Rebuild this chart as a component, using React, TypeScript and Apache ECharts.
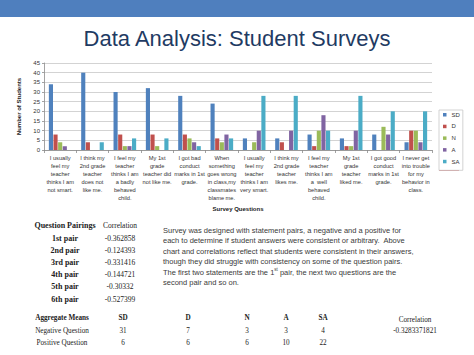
import React, { useEffect, useRef } from "react";
import * as echarts from "echarts";

const categories = [
  "I usually\nfeel my\nteacher\nthinks I am\nnot smart.",
  "I think my\n2nd grade\nteacher\ndoes not\nlike me.",
  "I feel my\nteacher\nthinks I am\na badly\nbehaved\nchild.",
  "My 1st\ngrade\nteacher did\nnot like me.",
  "I got bad\nconduct\nmarks in 1st\ngrade.",
  "When\nsomething\ngoes wrong\nin class,my\nclassmates\nblame me.",
  "I usually\nfeel my\nteacher\nthinks I am\nvery smart.",
  "I think my\n2nd grade\nteacher\nlikes me.",
  "I feel my\nteacher\nthinks I am\na  well\nbehaved\nchild.",
  "My 1st\ngrade\nteacher\nliked me.",
  "I got good\nconduct\nmarks in 1st\ngrade.",
  "I never get\ninto trouble\nfor my\nbehavior in\nclass.",
];
const seriesNames = ["SD", "D", "N", "A", "SA"];
const sdValues = [34, 40, 30, 32, 28, 24, 6, 6, 8, 6, 8, 4];
const dValues = [8, 4, 8, 8, 8, 6, 0, 4, 2, 2, 0, 10];
const nValues = [4, 0, 2, 2, 6, 4, 4, 0, 10, 2, 12, 10];
const aValues = [2, 0, 2, 0, 4, 8, 10, 10, 18, 10, 8, 4];
const saValues = [0, 4, 6, 6, 2, 6, 28, 28, 10, 28, 20, 20];
const seriesColors = ["#4f81bd", "#c0504d", "#9bbb59", "#8064a2", "#4bacc6"];

const pairLabels = ["1st pair", "2nd pair", "3rd pair", "4th pair", "5th pair", "6th pair"];
const pairCorrelations = ["-0.362858", "-0.124393", "-0.331416", "-0.144721", "-0.30332", "-0.527399"];
const aggHeaders = ["SD", "D", "N", "A", "SA"];
const negativeMeans = ["31", "7", "3", "3", "4"];
const positiveMeans = ["6", "6", "6", "10", "22"];
const aggCorrelation = "-0.3283371821";

const paragraphLines = [
  "Survey was designed with statement pairs, a negative and a positive for",
  "each to determine if student answers were consistent or arbitrary.  Above",
  "chart and correlations reflect that students were consistent in their answers,",
  "though they did struggle with consistency on some of the question pairs.",
  "{p|The first two statements are the 1}{s|st}{p| pair, the next two questions are the}",
  "second pair and so on.",
];

const SERIF = "'Liberation Serif', 'Times New Roman', serif";
const SANS = "'Liberation Sans', Arial, sans-serif";

function txt(text: string, x: number, y: number, o: any = {}) {
  return {
    type: "text",
    silent: true,
    style: {
      text,
      x,
      y,
      fill: o.fill || "#222",
      fontFamily: o.family || SERIF,
      fontSize: o.size || 7.5,
      fontWeight: o.bold ? "bold" : "normal",
      align: o.align || "center",
      verticalAlign: "middle",
      textAlign: o.align || "center",
      textVerticalAlign: "middle",
      rich: o.rich,
    },
  };
}

export default function App() {
  const ref = useRef<HTMLDivElement>(null);
  useEffect(() => {
    if (!ref.current) return;
    const chart = echarts.init(ref.current, undefined, { renderer: "svg" });
    const allValues = [sdValues, dValues, nValues, aValues, saValues];

    const graphics: any[] = [
      { type: "rect", silent: true, shape: { x: 0, y: 0, width: 474, height: 17 }, style: { fill: "#4f7fbe" } },
      txt("Data Analysis: Student Surveys", 237, 38, { family: SANS, size: 22, fill: "#1f3b63" }),
      txt("Survey Questions", 238, 209, { family: SANS, size: 6, bold: true, fill: "#222" }),
      { type: "rect", silent: true, shape: { x: 439, y: 169, width: 20, height: 1.6 }, style: { fill: "#c00000" } },
      txt("Question Pairings", 65, 225, { size: 8, bold: true }),
      txt("Correlation", 120, 225, { size: 7.5 }),
      txt("Aggregate Means", 62, 318, { size: 7.2, bold: true }),
      txt("Negative Question", 62, 331, { size: 7.2 }),
      txt("Positive Question", 62, 343, { size: 7.2 }),
      txt("Correlation", 415, 320, { size: 7.2 }),
      txt(aggCorrelation, 415, 331, { size: 7.2 }),
    ];
    pairLabels.forEach((l, i) => {
      graphics.push(txt(l, 65, 238 + i * 12.2, { size: 8, bold: true }));
      graphics.push(txt(pairCorrelations[i], 120, 238 + i * 12.2, { size: 7.5 }));
    });
    const aggX = [123, 188, 247, 286, 323];
    aggHeaders.forEach((h, i) => {
      graphics.push(txt(h, aggX[i], 318, { size: 7.2, bold: true }));
      graphics.push(txt(negativeMeans[i], aggX[i], 331, { size: 7.2 }));
      graphics.push(txt(positiveMeans[i], aggX[i], 343, { size: 7.2 }));
    });
    paragraphLines.forEach((l, i) => {
      const isRich = l.startsWith("{");
      graphics.push(
        txt(l, 163, 230 + i * 10.5, {
          family: SANS,
          size: 7.5,
          fill: "#3a3a3a",
          align: "left",
          rich: isRich
            ? {
                p: { fontFamily: SANS, fontSize: 7.5, fill: "#3a3a3a", lineHeight: 10 },
                s: { fontFamily: SANS, fontSize: 4.5, fill: "#3a3a3a", verticalAlign: "top", lineHeight: 6 },
              }
            : undefined,
        })
      );
    });

    chart.setOption({
      animation: false,
      backgroundColor: "#ffffff",
      grid: { left: 44, right: 42, top: 63, bottom: 205, containLabel: false },
      legend: {
        data: seriesNames,
        orient: "vertical",
        left: 439,
        top: 110,
        itemWidth: 3.5,
        itemHeight: 3.5,
        itemGap: 4.2,
        itemTextGap: 2,
        icon: "rect",
        padding: [1, 3, 5, 4],
        borderColor: "#c8c8c8",
        borderWidth: 0.8,
        backgroundColor: "#fff",
        textStyle: { fontSize: 6, lineHeight: 7.5, color: "#333", fontFamily: SANS },
      },
      xAxis: {
        type: "category",
        data: categories,
        axisLine: { lineStyle: { color: "#8c8c8c", width: 0.8 } },
        axisTick: { show: true, length: 3, lineStyle: { color: "#8c8c8c", width: 0.8 } },
        axisLabel: {
          interval: 0,
          fontSize: 5.7,
          lineHeight: 8,
          color: "#333",
          fontFamily: SANS,
          margin: 4,
        },
      },
      yAxis: {
        type: "value",
        min: 0,
        max: 45,
        interval: 5,
        name: "Number of Students",
        nameLocation: "middle",
        nameGap: 13,
        nameRotate: 90,
        nameTextStyle: { fontSize: 6, fontWeight: "bold", color: "#222", fontFamily: SANS },
        axisLine: { show: true, lineStyle: { color: "#8c8c8c", width: 0.8 } },
        axisTick: { show: true, length: 2, lineStyle: { color: "#8c8c8c", width: 0.8 } },
        axisLabel: { fontSize: 6, color: "#333", fontFamily: SANS, margin: 4 },
        splitLine: { lineStyle: { color: "#c8c8c8", width: 0.8 } },
      },
      series: seriesNames.map((name, i) => ({
        name,
        type: "bar",
        data: allValues[i],
        barGap: "12%",
        barCategoryGap: "30%",
        itemStyle: { color: seriesColors[i] },
      })),
      graphic: graphics,
    });
    return () => chart.dispose();
  }, []);
  return (
    <div
      ref={ref}
      style={{ position: "absolute", left: 0, top: 0, width: 474, height: 355, background: "#fff" }}
    />
  );
}
